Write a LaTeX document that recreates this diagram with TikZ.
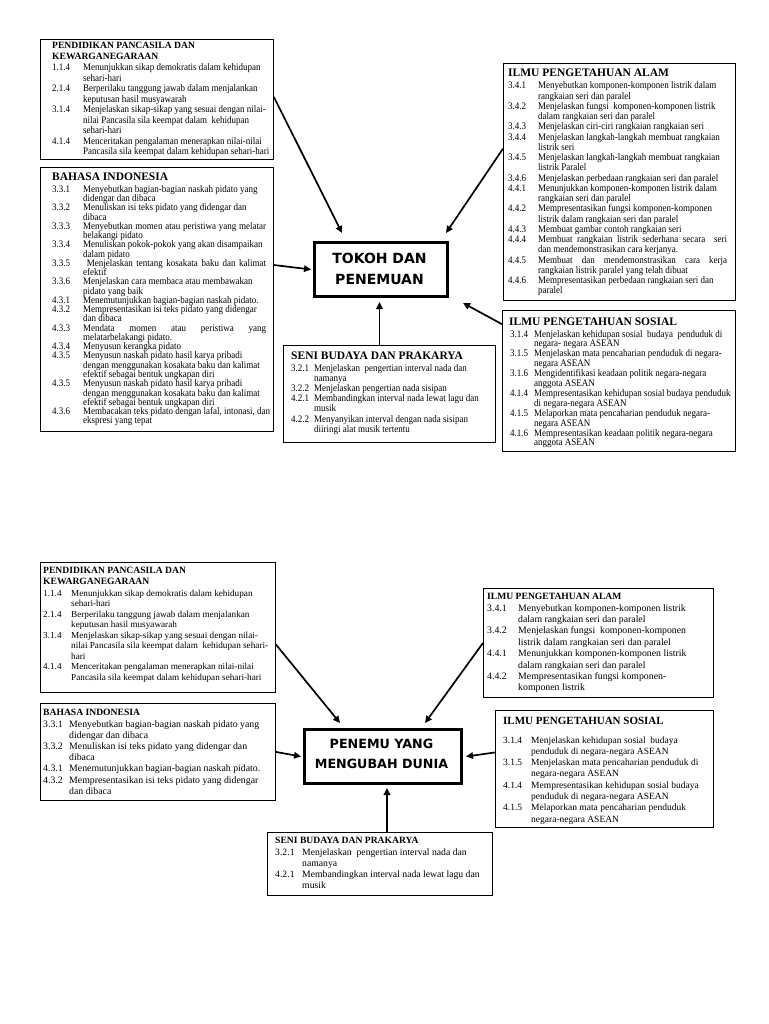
\documentclass[tikz,border=0pt]{standalone}
\usepackage{fontspec}
\setmainfont{Liberation Serif}
\newfontfamily\bodyfont[FakeStretch=0.9]{Liberation Serif}
\newfontfamily\hdfont{DejaVu Sans}
\usetikzlibrary{arrows.meta,calc}
\newcommand\J[2]{\makebox[#1][s]{#2}}
\newlength\numw
\newcommand\Li[2]{\hbox{\makebox[\numw][l]{#1}#2}}
\newcommand\Tl[1]{\hbox{#1}}
\newcommand\Blk[3]{\setlength\numw{#2}\vtop{\baselineskip=#1\lineskiplimit=-20pt\relax #3}}
\begin{document}
\begin{tikzpicture}[x=1pt,y=-1pt,
  box/.style={draw, line width=0.9pt, inner sep=0pt, anchor=north west},
  hub/.style={draw, line width=3pt, inner sep=0pt, anchor=north west},
  txt/.style={inner sep=0pt, anchor=base west},
  ttl/.style={inner sep=0pt, anchor=base west},
  hubtxt/.style={inner sep=0pt, anchor=base},
  arr/.style={line width=1.7pt, -{Triangle[length=7pt,width=6.5pt]}}]
\useasboundingbox[fill=white] (0,0) rectangle (768,1024);

%%%%%%%%%%%%%%%%%%%%%%%% UPPER DIAGRAM %%%%%%%%%%%%%%%%%%%%%%%%
% PPKn
\node[box, minimum width=233pt, minimum height=120pt] (ppknA) at (40,39) {};
\node[ttl, font=\fontsize{9.6}{11}\selectfont\bfseries] (ppknAt) at (52,49) {\Blk{11pt}{0pt}{\Tl{PENDIDIKAN PANCASILA DAN}\Tl{KEWARGANEGARAAN}}};
\node[txt, font=\bodyfont\fontsize{10}{10.5}\selectfont] (ppknAi) at (52,71) {\Blk{10.5pt}{31pt}{%
\Li{1.1.4}{Menunjukkan sikap demokratis dalam kehidupan}
\Li{}{sehari-hari}
\Li{2.1.4}{Berperilaku tanggung jawab dalam menjalankan}
\Li{}{keputusan hasil musyawarah}
\Li{3.1.4}{Menjelaskan sikap-sikap yang sesuai dengan nilai-}
\Li{}{nilai Pancasila sila keempat dalam\ \ kehidupan}
\Li{}{sehari-hari}
\Li{4.1.4}{Menceritakan pengalaman menerapkan nilai-nilai}
\Li{}{Pancasila sila keempat dalam kehidupan sehari-hari}}};

% Bahasa Indonesia
\node[box, minimum width=233pt, minimum height=264pt] (biA) at (40,167) {};
\node[ttl, font=\fontsize{11.5}{13}\selectfont\bfseries] (biAt) at (52,181) {BAHASA INDONESIA};
\node[txt, font=\bodyfont\fontsize{10}{9.25}\selectfont] (biAi) at (52,192.5) {\Blk{9.25pt}{31pt}{%
\Li{3.3.1}{Menyebutkan bagian-bagian naskah pidato yang}
\Li{}{didengar dan dibaca}
\Li{3.3.2}{Menuliskan isi teks pidato yang didengar dan}
\Li{}{dibaca}
\Li{3.3.3}{\J{183pt}{Menyebutkan momen atau peristiwa yang melatar}}
\Li{}{belakangi pidato}
\Li{3.3.4}{Menuliskan pokok-pokok yang akan disampaikan}
\Li{}{dalam pidato}
\Li{3.3.5}{\J{183pt}{\ Menjelaskan tentang kosakata baku dan kalimat}}
\Li{}{efektif}
\Li{3.3.6}{Menjelaskan cara membaca atau membawakan}
\Li{}{pidato yang baik}
\Li{4.3.1}{Menemutunjukkan bagian-bagian naskah pidato.}
\Li{4.3.2}{Mempresentasikan isi teks pidato yang didengar}
\Li{}{dan dibaca}
\Li{4.3.3}{\J{183pt}{Mendata momen atau peristiwa yang}}
\Li{}{melatarbelakangi pidato.}
\Li{4.3.4}{Menyusun kerangka pidato}
\Li{4.3.5}{Menyusun naskah pidato hasil karya pribadi}
\Li{}{dengan menggunakan kosakata baku dan kalimat}
\Li{}{efektif sebagai bentuk ungkapan diri}
\Li{4.3.5}{Menyusun naskah pidato hasil karya pribadi}
\Li{}{dengan menggunakan kosakata baku dan kalimat}
\Li{}{efektif sebagai bentuk ungkapan diri}
\Li{4.3.6}{Membacakan teks pidato dengan lafal, intonasi, dan}
\Li{}{ekspresi yang tepat}}};

% IPA
\node[box, minimum width=232pt, minimum height=237pt] (ipaA) at (503,63) {};
\node[ttl, font=\fontsize{11.5}{13}\selectfont\bfseries] (ipaAt) at (508,77) {ILMU PENGETAHUAN ALAM};
\node[txt, font=\bodyfont\fontsize{10}{10.25}\selectfont] (ipaAi) at (508,89) {\Blk{10.25pt}{30pt}{%
\Li{3.4.1}{Menyebutkan komponen-komponen listrik dalam}
\Li{}{rangkaian seri dan paralel}
\Li{3.4.2}{Menjelaskan fungsi\ \ komponen-komponen listrik}
\Li{}{dalam rangkaian seri dan paralel}
\Li{3.4.3}{Menjelaskan ciri-ciri rangkaian rangkaian seri}
\Li{3.4.4}{Menjelaskan langkah-langkah membuat rangkaian}
\Li{}{listrik seri}
\Li{3.4.5}{Menjelaskan langkah-langkah membuat rangkaian}
\Li{}{listrik Paralel}
\Li{3.4.6}{Menjelaskan perbedaan rangkaian seri dan paralel}
\Li{4.4.1}{Menunjukkan komponen-komponen listrik dalam}
\Li{}{rangkaian seri dan paralel}
\Li{4.4.2}{Mempresentasikan fungsi komponen-komponen}
\Li{}{listrik dalam rangkaian seri dan paralel}
\Li{4.4.3}{Membuat gambar contoh rangkaian seri}
\Li{4.4.4}{\J{189pt}{Membuat rangkaian listrik sederhana secara\ \ seri}}
\Li{}{dan mendemonstrasikan cara kerjanya.}
\Li{4.4.5}{\J{189pt}{Membuat dan mendemonstrasikan cara kerja}}
\Li{}{rangkaian listrik paralel yang telah dibuat}
\Li{4.4.6}{Mempresentasikan perbedaan rangkaian seri dan}
\Li{}{paralel}}};

% IPS
\node[box, minimum width=233pt, minimum height=141pt] (ipsA) at (502,310) {};
\node[ttl, font=\fontsize{11.5}{13}\selectfont\bfseries] (ipsAt) at (509,325) {ILMU PENGETAHUAN SOSIAL};
\node[txt, font=\bodyfont\fontsize{10}{9.9}\selectfont] (ipsAi) at (510,337) {\Blk{9.9pt}{24pt}{%
\Li{3.1.4}{Menjelaskan kehidupan sosial\ \ budaya\ \ penduduk di}
\Li{}{negara- negara ASEAN}
\Li{3.1.5}{Menjelaskan mata pencaharian penduduk di negara-}
\Li{}{negara ASEAN}
\Li{3.1.6}{Mengidentifikasi keadaan politik negara-negara}
\Li{}{anggota ASEAN}
\Li{4.1.4}{Mempresentasikan kehidupan sosial budaya penduduk}
\Li{}{di negara-negara ASEAN}
\Li{4.1.5}{Melaporkan mata pencaharian penduduk negara-}
\Li{}{negara ASEAN}
\Li{4.1.6}{Mempresentasikan keadaan politik negara-negara}
\Li{}{anggota ASEAN}}};

% SBdP
\node[box, minimum width=212pt, minimum height=97pt] (sbA) at (283,345) {};
\node[ttl, font=\fontsize{11.5}{13}\selectfont\bfseries] (sbAt) at (291,359) {SENI BUDAYA DAN PRAKARYA};
\node[txt, font=\bodyfont\fontsize{10}{10.2}\selectfont] (sbAi) at (291,371) {\Blk{10.2pt}{23pt}{%
\Li{3.2.1}{Menjelaskan\ \ pengertian interval nada dan}
\Li{}{namanya}
\Li{3.2.2}{Menjelaskan pengertian nada sisipan}
\Li{4.2.1}{Membandingkan interval nada lewat lagu dan}
\Li{}{musik}
\Li{4.2.2}{Menyanyikan interval dengan nada sisipan}
\Li{}{diiringi alat musik tertentu}}};

% Hub
\node[hub, minimum width=133pt, minimum height=54pt] (hubA) at (313,241) {};
\node[hubtxt, font=\hdfont\bfseries\fontsize{14}{16}\selectfont] (hubA1) at (379.5,263) {TOKOH DAN};
\node[hubtxt, font=\hdfont\bfseries\fontsize{14}{16}\selectfont] (hubA2) at (379.5,284) {PENEMUAN};

% Arrows
\draw[arr] ($(ppknA.north east)!0.48!(ppknA.south east)$) -- ($(hubA.north west)+(29,-8)$);
\draw[arr] ($(ipaA.north west)!0.36!(ipaA.south west)$) -- ($(hubA.north east)+(-3,-8)$);
\draw[arr] ($(biA.north east)!0.37!(biA.south east)$) -- ($(hubA.west)+(-2,0)$);
\draw[arr] (sbA.north -| hubA2) -- ($(hubA.south -| hubA2)+(0,4)$);
\draw[arr] ($(ipsA.north west)!0.1!(ipsA.south west)$) -- ($(hubA.south east)+(14,5)$);

%%%%%%%%%%%%%%%%%%%%%%%% LOWER DIAGRAM %%%%%%%%%%%%%%%%%%%%%%%%
% PPKn
\node[box, minimum width=235pt, minimum height=130pt] (ppknB) at (40,562) {};
\node[ttl, font=\fontsize{9.6}{11.5}\selectfont\bfseries] (ppknBt) at (43,573) {\Blk{11.5pt}{0pt}{\Tl{PENDIDIKAN PANCASILA DAN}\Tl{KEWARGANEGARAAN}}};
\node[txt, font=\fontsize{9.2}{10.5}\selectfont] (ppknBi) at (43,596) {\Blk{10.5pt}{28pt}{%
\Li{1.1.4}{Menunjukkan sikap demokratis dalam kehidupan}
\Li{}{sehari-hari}
\Li{2.1.4}{Berperilaku tanggung jawab dalam menjalankan}
\Li{}{keputusan hasil musyawarah}
\Li{3.1.4}{Menjelaskan sikap-sikap yang sesuai dengan nilai-}
\Li{}{nilai Pancasila sila keempat dalam\ \ kehidupan sehari-}
\Li{}{hari}
\Li{4.1.4}{Menceritakan pengalaman menerapkan nilai-nilai}
\Li{}{Pancasila sila keempat dalam kehidupan sehari-hari}}};

% BI
\node[box, minimum width=235pt, minimum height=97pt] (biB) at (40,703) {};
\node[ttl, font=\fontsize{9.6}{11}\selectfont\bfseries] (biBt) at (43,715) {BAHASA INDONESIA};
\node[txt, font=\fontsize{9.8}{11.2}\selectfont] (biBi) at (43,727) {\Blk{11.2pt}{26pt}{%
\Li{3.3.1}{Menyebutkan bagian-bagian naskah pidato yang}
\Li{}{didengar dan dibaca}
\Li{3.3.2}{Menuliskan isi teks pidato yang didengar dan}
\Li{}{dibaca}
\Li{4.3.1}{Menemutunjukkan bagian-bagian naskah pidato.}
\Li{4.3.2}{Mempresentasikan isi teks pidato yang didengar}
\Li{}{dan dibaca}}};

% IPA
\node[box, minimum width=230pt, minimum height=109pt] (ipaB) at (483,588) {};
\node[ttl, font=\fontsize{9.6}{11}\selectfont\bfseries] (ipaBt) at (487,599) {ILMU PENGETAHUAN ALAM};
\node[txt, font=\fontsize{9.8}{11.4}\selectfont] (ipaBi) at (487,611) {\Blk{11.4pt}{31pt}{%
\Li{3.4.1}{Menyebutkan komponen-komponen listrik}
\Li{}{dalam rangkaian seri dan paralel}
\Li{3.4.2}{Menjelaskan fungsi\ \ komponen-komponen}
\Li{}{listrik dalam rangkaian seri dan paralel}
\Li{4.4.1}{Menunjukkan komponen-komponen listrik}
\Li{}{dalam rangkaian seri dan paralel}
\Li{4.4.2}{Mempresentasikan fungsi komponen-}
\Li{}{komponen listrik}}};

% IPS
\node[box, minimum width=218pt, minimum height=117pt] (ipsB) at (495,710) {};
\node[ttl, font=\fontsize{11}{13}\selectfont\bfseries] (ipsBt) at (503,724) {ILMU PENGETAHUAN SOSIAL};
\node[txt, font=\fontsize{9.5}{11.3}\selectfont] (ipsBi) at (503,743) {\Blk{11.3pt}{28pt}{%
\Li{3.1.4}{Menjelaskan kehidupan sosial\ \ budaya}
\Li{}{penduduk di negara-negara ASEAN}
\Li{3.1.5}{Menjelaskan mata pencaharian penduduk di}
\Li{}{negara-negara ASEAN}
\Li{4.1.4}{Mempresentasikan kehidupan sosial budaya}
\Li{}{penduduk di negara-negara ASEAN}
\Li{4.1.5}{Melaporkan mata pencaharian penduduk}
\Li{}{negara-negara ASEAN}}};

% SBdP
\node[box, minimum width=225pt, minimum height=63pt] (sbB) at (267,832) {};
\node[ttl, font=\fontsize{9.6}{11}\selectfont\bfseries] (sbBt) at (275,843) {SENI BUDAYA DAN PRAKARYA};
\node[txt, font=\fontsize{9.7}{11.3}\selectfont] (sbBi) at (275,855) {\Blk{11.3pt}{27pt}{%
\Li{3.2.1}{Menjelaskan\ \ pengertian interval nada dan}
\Li{}{namanya}
\Li{4.2.1}{Membandingkan interval nada lewat lagu dan}
\Li{}{musik}}};

% Hub
\node[hub, minimum width=157pt, minimum height=54pt] (hubB) at (303,728) {};
\node[hubtxt, font=\hdfont\bfseries\fontsize{12.7}{15}\selectfont] (hubB1) at (381.5,748) {PENEMU YANG};
\node[hubtxt, font=\hdfont\bfseries\fontsize{12.7}{15}\selectfont] (hubB2) at (381.5,768) {MENGUBAH DUNIA};

% Arrows
\draw[arr] ($(ppknB.north east)!0.63!(ppknB.south east)$) -- ($(hubB.north west)+(37,-5)$);
\draw[arr] ($(ipaB.north west)!0.5!(ipaB.south west)$) -- ($(hubB.north east)+(-38,-5)$);
\draw[arr] ($(biB.north east)!0.5!(biB.south east)$) -- ($(hubB.west)+(-2,0)$);
\draw[arr] ($(ipsB.north west)!0.36!(ipsB.south west)$) -- ($(hubB.east)+(3,0)$);
\draw[arr] ($(sbB.north west)+(120,0)$) -- ($(hubB.south west)+(84,3)$);
\end{tikzpicture}
\end{document}
